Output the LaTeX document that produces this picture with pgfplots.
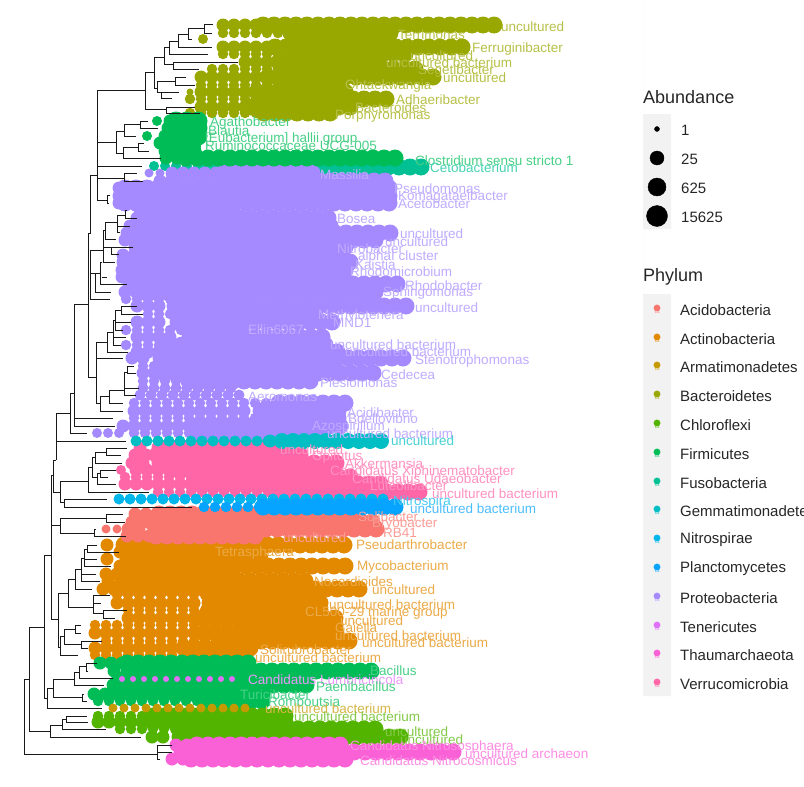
\documentclass[border=0pt]{standalone}
\usepackage{fontspec}
\setmainfont{Liberation Sans}
\usepackage{pgfplots}
\pgfplotsset{compat=1.18}

\definecolor{Acido}{HTML}{F8766D}
\definecolor{Actino}{HTML}{E38900}
\definecolor{Armati}{HTML}{C49A00}
\definecolor{Bactero}{HTML}{99A800}
\definecolor{Chloro}{HTML}{53B400}
\definecolor{Firmi}{HTML}{00BC56}
\definecolor{Fuso}{HTML}{00C094}
\definecolor{Gemma}{HTML}{00BFC4}
\definecolor{Nitro}{HTML}{00B6EB}
\definecolor{Plancto}{HTML}{06A4FF}
\definecolor{Proteo}{HTML}{A58AFF}
\definecolor{Teneri}{HTML}{DF70F8}
\definecolor{Thaum}{HTML}{FB61D7}
\definecolor{Verruco}{HTML}{FF66A8}

\pgfplotsset{dots/.style={no markers,line cap=round,dash pattern=on 0pt off 11pt}}

% one row of the heatmap: colour, y, first x, x where dots get big, last x
\newcommand{\tip}[6][17]{%
  \addplot[#2,dots,line width=13pt] coordinates {(#4,#3) (#5,#3)};
  \addplot[#2,dots,line width=#1pt] coordinates {(#6,#3) (#5,#3)};}
% same with smaller first dots, white shows through between them
\newcommand{\tipb}[6][17]{%
  \addplot[#2,dots,line width=10.5pt] coordinates {(#4,#3) (#5,#3)};
  \addplot[#2,dots,line width=#1pt] coordinates {(#6,#3) (#5,#3)};}
% row with one dot size all along
\newcommand{\thin}[5]{%
  \addplot[#1,dots,line width=#5pt] coordinates {(#3,#2) (#4,#2)};}
% genus label
\newcommand{\lab}[4]{\node[anchor=west,inner sep=0pt,text=#1!72!white,font=\fontsize{13.5}{15}\selectfont] at (axis cs:#2,#3) {#4};}
\newcommand{\key}[3]{%
  \addplot[only marks,mark=*,#1,mark size=3.2pt] coordinates {(657,#2-2)};
  \node[inner sep=0pt,text=#1!65!white,font=\fontsize{9}{9}\selectfont] at (axis cs:657,#2+1) {a};
  \node[anchor=west,inner sep=0pt,text=black!85,font=\fontsize{15}{17}\selectfont] at (axis cs:680,#2) {#3};}

\begin{document}
\begin{tikzpicture}
\path[use as bounding box,clip] (0,0) rectangle (804pt,787pt);
\begin{axis}[
  at={(0,0)},anchor=south west,
  scale only axis,width=804pt,height=787pt,
  xmin=0,xmax=804,ymin=0,ymax=787,
  y dir=reverse,
  hide axis,clip=false,
  unbounded coords=jump
]

% Bacteroidetes
\tip{Bactero}{25}{223}{262}{494}
\tipb{Bactero}{33}{223}{285}{390}
\thin{Bactero}{39}{203}{214}{10}
\tip{Bactero}{47}{223}{270}{462}
\tipb{Bactero}{54}{223}{290}{405}
\tip{Bactero}{62}{245}{275}{378}
\tipb{Bactero}{69}{212}{280}{415}
\tip{Bactero}{77}{201}{265}{433}
\tipb{Bactero}{85}{201}{290}{335}
\thin{Bactero}{92}{190}{191}{7}
\tip{Bactero}{92}{201}{250}{345}
\tipb{Bactero}{99}{190}{275}{386}
\tip{Bactero}{107}{201}{250}{350}
\tipb{Bactero}{113}{190}{260}{330}

% Fusobacteria
\thin{Fuso}{166}{154}{300}{10}
\tip{Fuso}{167}{200}{300}{421}

% Proteobacteria
\thin{Proteo}{173}{149}{160}{9}
\tip{Proteo}{173}{172}{220}{312}
\tip{Proteo}{181}{160}{220}{385}
\tip{Proteo}{188}{119}{120}{389}
\tip{Proteo}{196}{119}{120}{389}
\tip{Proteo}{203}{119}{120}{389}
\tip{Proteo}{210}{140}{150}{230}
\tip{Proteo}{218}{137}{150}{328}
\tip{Proteo}{226}{130}{145}{330}
\tip{Proteo}{233}{127}{140}{390}
\tip{Proteo}{240}{125}{140}{375}
\tip{Proteo}{247}{135}{150}{345}
\tip{Proteo}{255}{123}{135}{340}
\tip{Proteo}{262}{123}{135}{350}
\tip{Proteo}{270}{122}{135}{345}
\tip{Proteo}{277}{122}{135}{330}
\tip{Proteo}{284}{129}{145}{397}
\tip{Proteo}{292}{125}{140}{375}
\tipb{Proteo}{299}{126}{200}{235}
\tip{Proteo}{306}{137}{165}{406}
\tipb{Proteo}{314}{148}{220}{315}
\tip{Proteo}{322}{137}{170}{332}
\tipb{Proteo}{330}{126}{200}{240}
\tip{Proteo}{337}{137}{180}{322}
\tipb{Proteo}{345}{126}{170}{325}
\tip{Proteo}{352}{137}{150}{337}
\tip{Proteo}{358}{132}{150}{403}
\tipb{Proteo}{366}{143}{175}{330}
\tip{Proteo}{373}{143}{160}{373}
\tipb{Proteo}{381}{143}{180}{310}
\thin{Proteo}{388}{143}{240}{11}
\thin{Proteo}{395}{140}{240}{11}
\tipb{Proteo}{403}{134}{275}{345}
\tip{Proteo}{411}{134}{255}{338}
\tipb{Proteo}{418}{134}{280}{338}
\tip{Proteo}{426}{123}{190}{340}
\thin{Proteo}{433}{97}{120}{10}
\tipb{Proteo}{433}{134}{190}{318}

% Firmicutes, upper group
\thin{Firmi}{121}{157}{158}{10}
\tip[19]{Firmi}{121}{170}{171}{198}
\tip[19]{Firmi}{128}{168}{172}{198}
\thin{Firmi}{136}{147}{148}{10}
\tip[19]{Firmi}{136}{165}{172}{198}
\tip[19]{Firmi}{143}{160}{168}{192}
\tip[19]{Firmi}{151}{165}{168}{192}
\tip{Firmi}{158}{166}{180}{395}

% Verrucomicrobia
\tip{Verruco}{448}{140}{150}{270}
\tip{Verruco}{455}{135}{150}{300}
\tip{Verruco}{463}{132}{150}{336}
\thin{Verruco}{470}{121}{122}{10}
\tip{Verruco}{470}{136}{170}{322}
\tipb{Verruco}{477}{125}{200}{350}
\tip{Verruco}{484}{125}{190}{380}
\tipb{Verruco}{492}{158}{270}{419}

% Actinobacteria
\tip{Actino}{545}{107}{118}{344}
\tip{Actino}{552}{120}{130}{205}
\tip{Actino}{559}{107}{118}{260}
\tip{Actino}{566}{120}{130}{345}
\tip{Actino}{574}{106}{118}{230}
\tip{Actino}{581}{108}{118}{305}
\tip{Actino}{589}{103}{115}{359}
\tipb{Actino}{595}{117}{225}{300}
\tip{Actino}{603}{117}{200}{320}
\tipb{Actino}{610}{128}{235}{320}
\tip{Actino}{618}{128}{200}{335}
\tipb{Actino}{625}{95}{240}{335}
\tip{Actino}{633}{95}{200}{336}
\tipb{Actino}{641}{106}{225}{349}
\tip{Actino}{648}{95}{180}{250}
\tipb{Actino}{655}{95}{180}{245}

% Acidobacteria
\tip{Acido}{514}{135}{150}{357}
\tip{Acido}{522}{132}{150}{372}
\thin{Acido}{529}{106}{118}{9}
\tip{Acido}{529}{128}{150}{376}
\tip{Acido}{536}{127}{150}{255}

% Gemmatimonadetes
\thin{Gemma}{441}{136}{270}{11}
\tip[16]{Gemma}{441}{270}{280}{381}

% Nitrospirae, Planctomycetes
\thin{Nitro}{499}{119}{385}{11}
\tipb{Plancto}{507}{204}{260}{395}

% Firmicutes, lower group
\tip{Firmi}{663}{100}{125}{248}
\tip{Firmi}{671}{114}{125}{371}
\tip{Firmi}{678}{118}{125}{240}
\tip{Firmi}{685}{113}{125}{306}
\tip{Firmi}{694}{94}{180}{262}
\tipb{Firmi}{701}{98}{200}{262}

% Tenericutes
\thin{Teneri}{679}{122}{240}{6}

% Chloroflexi
\tipb{Chloro}{716}{98}{150}{285}
\tip{Chloro}{722}{98}{150}{285}
\tipb{Chloro}{729}{120}{180}{375}
\tip{Chloro}{737}{152}{170}{400}

% Armatimonadetes
\thin{Armati}{708}{113}{255}{9}

% Thaumarchaeota
\tip{Thaum}{745}{176}{190}{340}
\tip{Thaum}{752}{180}{200}{453}
\tip{Thaum}{759}{172}{190}{345}

% tree
\addplot[black!90,line width=1pt,no markers] coordinates {
(29,679)(24,679)(24,754)(157,754) (0,nan)
(172,745)(157,745)(157,759)(160,759) (0,nan)
(157,752)(172,752) (0,nan)
(44,627)(29,627)(29,731)(50,731) (0,nan)
(62,725)(50,725)(50,737)(141,737) (0,nan)
(66,719)(62,719)(62,729)(106,729) (0,nan)
(87,716)(66,716)(66,722)(88,722) (0,nan)
(51,555)(44,555)(44,698)(47,698) (0,nan)
(53,688)(47,688)(47,708)(102,708) (0,nan)
(74,679)(53,679)(53,697)(82,697) (0,nan)
(79,672)(74,672)(74,685)(104,685) (0,nan)
(86,666)(79,666)(79,678)(113,678) (0,nan)
(97,663)(86,663)(86,671)(88,671) (0,nan)
(84,694)(82,694)(82,701)(87,701) (0,nan)
(70,413)(56,413)(56,460) (0,nan)
(56,441)(126,441) (0,nan)
(56,460)(53,460)(53,492)(60,492) (0,nan)
(88,481)(60,481)(60,502)(64,502) (0,nan)
(92,467)(88,467)(88,492)(149,492) (0,nan)
(95,457)(92,457)(92,477)(97,477) (0,nan)
(106,452)(95,452)(95,463)(122,463) (0,nan)
(127,448)(106,448)(106,455)(121,455) (0,nan)
(100,473)(97,473)(97,484)(116,484) (0,nan)
(116,470)(100,470)(100,477)(108,477) (0,nan)
(107,499)(64,499)(64,507)(192,507) (0,nan)
(53,475)(51,475)(51,619)(58,619) (0,nan)
(51,525)(60,525) (0,nan)
(106,518)(60,518)(60,533)(94,533) (0,nan)
(123,514)(106,514)(106,522)(125,522) (0,nan)
(96,529)(94,529)(94,536)(126,536) (0,nan)
(68,593)(58,593)(58,647)(60,647) (0,nan)
(75,579)(68,579)(68,607)(93,607) (0,nan)
(81,569)(75,569)(75,589)(92,589) (0,nan)
(84,558)(81,558)(81,581)(100,581) (0,nan)
(81,574)(96,574) (0,nan)
(87,549)(84,549)(84,566)(111,566) (0,nan)
(84,559)(97,559) (0,nan)
(97,545)(87,545)(87,552)(119,552) (0,nan)
(110,595)(93,595)(93,613)(103,613) (0,nan)
(93,603)(101,603) (0,nan)
(127,610)(103,610)(103,618)(115,618) (0,nan)
(64,636)(60,636)(60,655)(78,655) (0,nan)
(75,629)(64,629)(64,644)(81,644) (0,nan)
(81,625)(75,625)(75,633)(81,633) (0,nan)
(102,641)(81,641)(81,648)(88,648) (0,nan)
(88,304)(74,304)(74,426)(115,426) (0,nan)
(74,418)(113,418) (0,nan)
(74,393)(70,393)(70,433)(87,433) (0,nan)
(88,233)(88,377)(96,377) (0,nan)
(88,233)(90,233)(90,175)(97,175) (0,nan)
(145,90)(97,90)(97,200)(107,200) (0,nan)
(97,142)(116,142) (0,nan)
(97,166)(142,166) (0,nan)
(97,178)(124,178) (0,nan)
(110,195)(107,195)(107,203)(109,203) (0,nan)
(137,173)(124,173)(124,181)(143,181) (0,nan)
(103,250)(90,250)(90,299)(110,299) (0,nan)
(90,273)(95,273) (0,nan)
(100,273)(95,273)(95,292)(111,292) (0,nan)
(102,262)(100,262)(100,284)(127,284) (0,nan)
(102,277)(107,277) (0,nan)
(105,230)(103,230)(103,262)(115,262) (0,nan)
(117,222)(105,222)(105,239)(116,239) (0,nan)
(103,247)(111,247) (0,nan)
(133,247)(111,247)(111,254)(119,254) (0,nan)
(125,215)(117,215)(117,232)(120,232) (0,nan)
(117,226)(130,226) (0,nan)
(127,210)(125,210)(125,218)(137,218) (0,nan)
(107,342)(96,342)(96,403)(100,403) (0,nan)
(96,358)(123,358) (0,nan)
(113,332)(107,332)(107,352)(128,352) (0,nan)
(115,320)(113,320)(113,345)(121,345) (0,nan)
(113,337)(126,337) (0,nan)
(121,310)(115,310)(115,330)(123,330) (0,nan)
(115,322)(131,322) (0,nan)
(137,306)(121,306)(121,314)(143,314) (0,nan)
(109,396)(100,396)(100,411)(123,411) (0,nan)
(124,390)(109,390)(109,403)(123,403) (0,nan)
(127,372)(124,372)(124,395)(136,395) (0,nan)
(124,388)(139,388) (0,nan)
(134,366)(127,366)(127,373)(136,373) (0,nan)
(116,131)(116,153) (0,nan)
(124,131)(116,131) (0,nan)
(140,124)(124,124)(124,136)(136,136) (0,nan)
(148,121)(140,121)(140,128)(158,128) (0,nan)
(116,153)(123,153) (0,nan)
(138,147)(123,147)(123,158)(161,158) (0,nan)
(144,143)(138,143)(138,151)(149,151) (0,nan)
(200,113)(166,113)(166,107)(195,107) (0,nan)
(166,109)(145,109)(145,72)(154,72) (0,nan)
(164,57)(154,57)(154,88)(157,88) (0,nan)
(169,47)(164,47)(164,64)(173,64) (0,nan)
(178,41)(169,41)(169,54)(208,54) (0,nan)
(188,34)(178,34)(178,47)(212,47) (0,nan)
(204,28)(188,28)(188,39)(192,39) (0,nan)
(213,24)(204,24)(204,33)(212,33) (0,nan)
(238,62)(173,62)(173,69)(199,69) (0,nan)
(175,81)(157,81)(157,92)(161,92) (0,nan)
(186,77)(175,77)(175,85)(195,85) (0,nan)
(179,92)(161,92)(161,98)(172,98)
};

% legend panels
\addplot[fill=black!5,draw=none,no markers] coordinates {(643,114) (671,114) (671,229) (643,229)} \closedcycle;
\addplot[fill=black!5,draw=none,no markers] coordinates {(643,294) (671,294) (671,696) (643,696)} \closedcycle;

\addplot[only marks,mark=*,black,mark size=2.5pt] coordinates {(657,129)};
\addplot[only marks,mark=*,black,mark size=7pt] coordinates {(657,158)};
\addplot[only marks,mark=*,black,mark size=9pt] coordinates {(657,187)};
\addplot[only marks,mark=*,black,mark size=10.5pt] coordinates {(657,216)};

\key{Acido}{310}{Acidobacteria}
\key{Actino}{339}{Actinobacteria}
\key{Armati}{367}{Armatimonadetes}
\key{Bactero}{396}{Bacteroidetes}
\key{Chloro}{425}{Chloroflexi}
\key{Firmi}{454}{Firmicutes}
\key{Fuso}{483}{Fusobacteria}
\key{Gemma}{511}{Gemmatimonadetes}
\key{Nitro}{540}{Nitrospirae}
\key{Plancto}{569}{Planctomycetes}
\key{Proteo}{598}{Proteobacteria}
\key{Teneri}{627}{Tenericutes}
\key{Thaum}{655}{Thaumarchaeota}
\key{Verruco}{684}{Verrucomicrobia}

\node[anchor=west,inner sep=0pt,text=black!85,font=\fontsize{18}{20}\selectfont] at (axis cs:643,97) {Abundance};
\node[anchor=west,inner sep=0pt,text=black!85,font=\fontsize{18}{20}\selectfont] at (axis cs:643,277) {Phylum};
\node[anchor=west,inner sep=0pt,text=black!85,font=\fontsize{15}{17}\selectfont] at (axis cs:681,130) {1};
\node[anchor=west,inner sep=0pt,text=black!85,font=\fontsize{15}{17}\selectfont] at (axis cs:681,159) {25};
\node[anchor=west,inner sep=0pt,text=black!85,font=\fontsize{15}{17}\selectfont] at (axis cs:681,188) {625};
\node[anchor=west,inner sep=0pt,text=black!85,font=\fontsize{15}{17}\selectfont] at (axis cs:681,217) {15625};

% genus labels
\lab{Bactero}{501}{27}{uncultured}
\lab{Bactero}{398}{35}{Terrimonas}
\lab{Bactero}{472}{49}{Ferruginibacter}
\lab{Bactero}{410}{56}{uncultured}
\lab{Bactero}{386}{63}{uncultured bacterium}
\lab{Bactero}{418}{71}{Segetibacter}
\lab{Bactero}{443}{78}{uncultured}
\lab{Bactero}{345}{86}{Ohtaekwangia}
\lab{Bactero}{396}{100}{Adhaeribacter}
\lab{Bactero}{355}{108}{Bacteroides}
\lab{Bactero}{335}{116}{Porphyromonas}
\lab{Firmi}{210}{123}{Agathobacter}
\lab{Firmi}{208}{131}{Blautia}
\lab{Firmi}{205}{139}{[Eubacterium] hallii group}
\lab{Firmi}{205}{146}{Ruminococcaceae UCG-005}
\lab{Firmi}{415}{161}{Clostridium sensu stricto 1}
\lab{Fuso}{430}{168}{Cetobacterium}
\lab{Proteo}{320}{175}{Massilia}
\lab{Proteo}{394}{189}{Pseudomonas}
\lab{Proteo}{398}{197}{Komagataeibacter}
\lab{Proteo}{398}{204}{Acetobacter}
\lab{Proteo}{337}{219}{Bosea}
\lab{Proteo}{400}{234}{uncultured}
\lab{Proteo}{385}{242}{uncultured}
\lab{Proteo}{337}{249}{Nitrobacter}
\lab{Proteo}{358}{257}{alphaI cluster}
\lab{Proteo}{355}{265}{Kaistia}
\lab{Proteo}{350}{272}{Rhodomicrobium}
\lab{Proteo}{405}{286}{Rhodobacter}
\lab{Proteo}{383}{293}{Sphingomonas}
\lab{Proteo}{415}{308}{uncultured}
\lab{Proteo}{318}{316}{Methylotenera}
\lab{Proteo}{333}{323}{MND1}
\lab{Proteo}{248}{330}{Ellin6067}
\lab{Proteo}{330}{345}{uncultured bacterium}
\lab{Proteo}{345}{352}{uncultured bacterium}
\lab{Proteo}{415}{361}{Stenotrophomonas}
\lab{Proteo}{381}{375}{Cedecea}
\lab{Proteo}{320}{383}{Plesiomonas}
\lab{Proteo}{248}{397}{Aeromonas}
\lab{Proteo}{347}{413}{Acidibacter}
\lab{Proteo}{348}{419}{Bdellovibrio}
\lab{Proteo}{312}{427}{Azospirillum}
\lab{Proteo}{327}{434}{uncultured bacterium}
\lab{Gemma}{391}{441}{uncultured}
\lab{Verruco}{280}{450}{uncultured}
\lab{Verruco}{312}{457}{Opitutus}
\lab{Verruco}{345}{464}{Akkermansia}
\lab{Verruco}{330}{472}{Candidatus Xiphinematobacter}
\lab{Verruco}{352}{479}{Candidatus Udaeobacter}
\lab{Verruco}{370}{486}{Luteolibacter}
\lab{Verruco}{432}{494}{uncultured bacterium}
\lab{Nitro}{393}{502}{Nitrospira}
\lab{Plancto}{410}{509}{uncultured bacterium}
\lab{Acido}{358}{517}{Solibacter}
\lab{Acido}{372}{524}{Bryobacter}
\lab{Acido}{383}{533}{RB41}
\lab{Acido}{283}{538}{uncultured}
\lab{Actino}{356}{545}{Pseudarthrobacter}
\lab{Actino}{215}{553}{Tetrasphaera}
\lab{Actino}{357}{567}{Mycobacterium}
\lab{Actino}{314}{582}{Nocardioides}
\lab{Actino}{372}{590}{uncultured}
\lab{Actino}{329}{605}{uncultured bacterium}
\lab{Actino}{305}{613}{CL500-29 marine group}
\lab{Actino}{340}{621}{uncultured}
\lab{Actino}{335}{628}{Gaiella}
\lab{Actino}{335}{636}{uncultured bacterium}
\lab{Actino}{362}{643}{uncultured bacterium}
\lab{Actino}{260}{650}{Solirubrobacter}
\lab{Actino}{255}{658}{uncultured bacterium}
\lab{Firmi}{370}{671}{Bacillus}
\lab{Teneri}{248}{680}{Candidatus Lumbricincola}
\lab{Firmi}{316}{687}{Paenibacillus}
\lab{Firmi}{240}{695}{Turicibacter}
\lab{Firmi}{268}{702}{Romboutsia}
\lab{Armati}{265}{709}{uncultured bacterium}
\lab{Chloro}{294}{717}{uncultured bacterium}
\lab{Chloro}{385}{732}{uncultured}
\lab{Chloro}{400}{740}{uncultured}
\lab{Thaum}{350}{747}{Candidatus Nitrososphaera}
\lab{Thaum}{465}{754}{uncultured archaeon}
\lab{Thaum}{360}{761}{Candidatus Nitrocosmicus}

\end{axis}
\end{tikzpicture}
\end{document}
